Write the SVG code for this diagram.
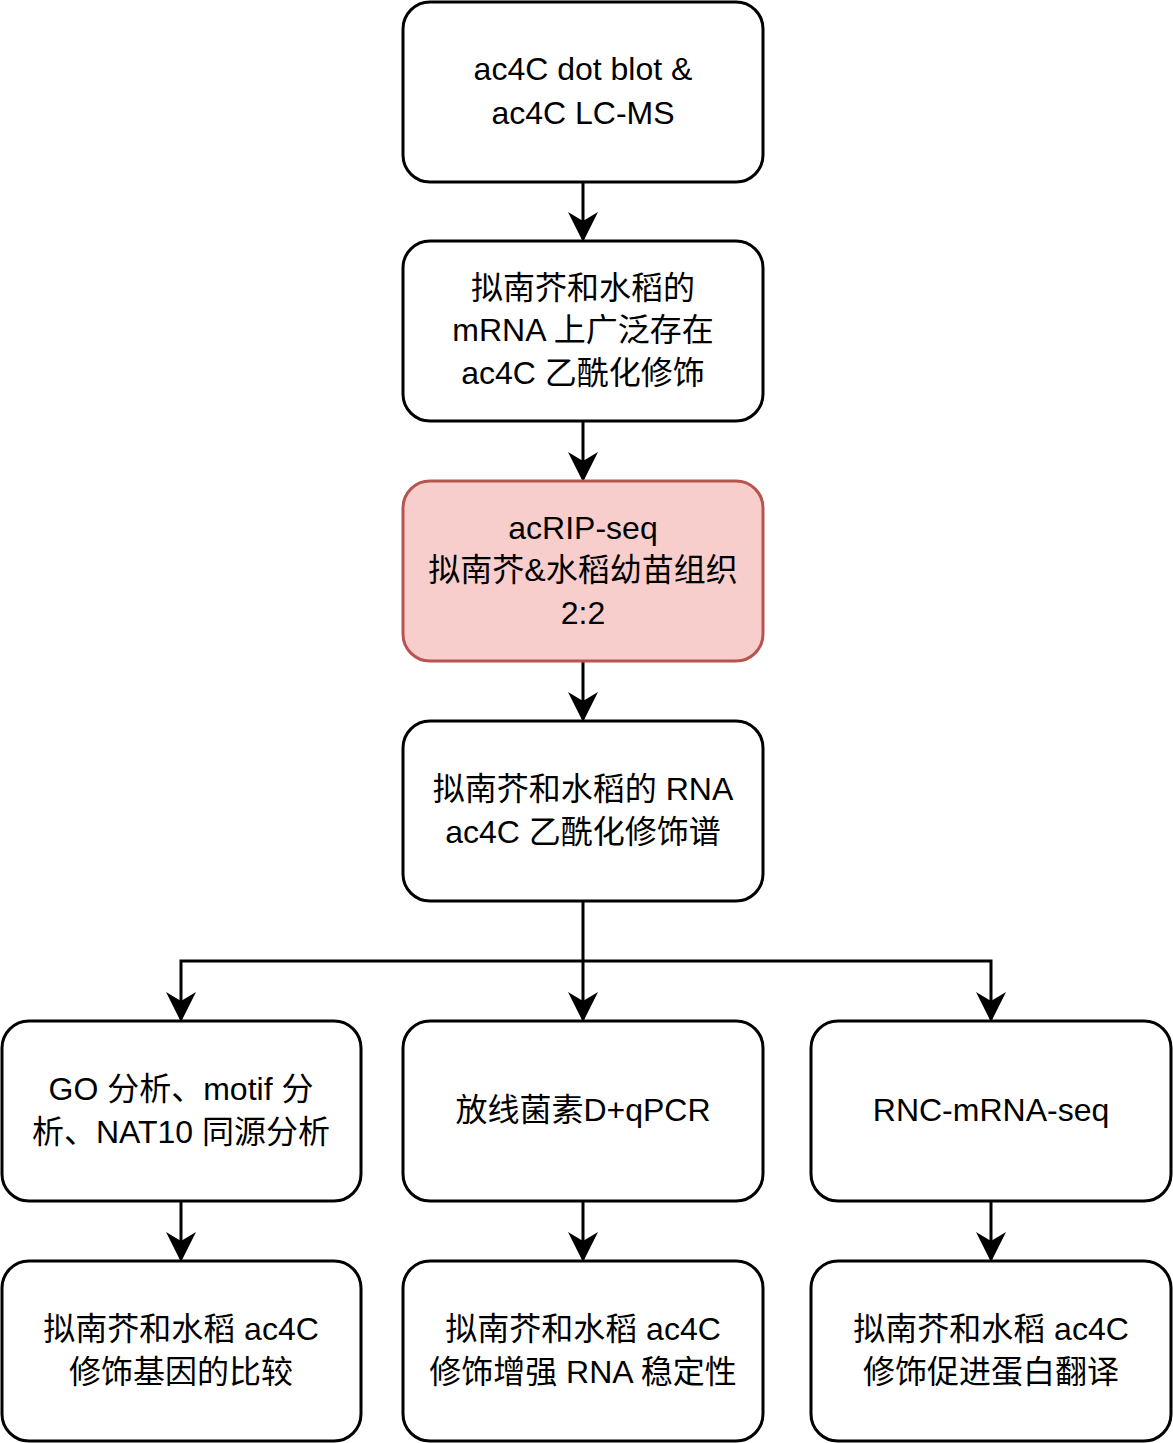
<svg xmlns="http://www.w3.org/2000/svg" width="1173" height="1443" viewBox="0 0 1173 1443">
<defs>
<style>
.b{fill:#fff;stroke:#000;stroke-width:3}
.r{fill:#f8cecc;stroke:#b85450;stroke-width:3}
text{font-family:"Liberation Sans","Noto Sans CJK SC",sans-serif;font-size:32px;text-anchor:middle;dominant-baseline:central;fill:#000}
.c{fill:none;stroke:#000;stroke-width:3}
</style>
<marker id="a" viewBox="0 0 10 10" refX="9" refY="5" markerWidth="9" markerHeight="9" markerUnits="userSpaceOnUse" orient="auto"><path d="M0,0L10,5L0,10L3,5Z" fill="#000"/></marker>
<marker id="m" viewBox="0 0 10 10" refX="9" refY="5" markerWidth="30" markerHeight="30" markerUnits="userSpaceOnUse" orient="auto"><path d="M0,0L10,5L0,10L3,5Z" fill="#000"/></marker>
</defs>
<g id="connectors">
<path class="c" d="M583,182V239" marker-end="url(#m)"/>
<path class="c" d="M583,421V479" marker-end="url(#m)"/>
<path class="c" d="M583,661V719" marker-end="url(#m)"/>
<path class="c" d="M583,901V1019" marker-end="url(#m)"/>
<path class="c" d="M583,961H181V1019" marker-end="url(#m)"/>
<path class="c" d="M583,961H991V1019" marker-end="url(#m)"/>
<path class="c" d="M181,1201V1259" marker-end="url(#m)"/>
<path class="c" d="M583,1201V1259" marker-end="url(#m)"/>
<path class="c" d="M991,1201V1259" marker-end="url(#m)"/>
</g>
<g id="n1"><rect class="b" x="403" y="2" width="360" height="180" rx="27"/><text x="583" y="69">ac4C dot blot &amp;</text><text x="583" y="113">ac4C LC-MS</text></g>
<g id="n2"><rect class="b" x="403" y="241" width="360" height="180" rx="27"/><text x="583" y="288">拟南芥和水稻的</text><text x="583" y="330">mRNA 上广泛存在</text><text x="583" y="373">ac4C 乙酰化修饰</text></g>
<g id="n3"><rect class="r" x="403" y="481" width="360" height="180" rx="27"/><text x="583" y="528">acRIP-seq</text><text x="583" y="570">拟南芥&amp;水稻幼苗组织</text><text x="583" y="613">2:2</text></g>
<g id="n4"><rect class="b" x="403" y="721" width="360" height="180" rx="27"/><text x="583" y="789">拟南芥和水稻的 RNA</text><text x="583" y="832">ac4C 乙酰化修饰谱</text></g>
<g id="n5"><rect class="b" x="2" y="1021" width="359" height="180" rx="27"/><text x="181" y="1089">GO 分析、motif 分</text><text x="181" y="1132">析、NAT10 同源分析</text></g>
<g id="n6"><rect class="b" x="403" y="1021" width="360" height="180" rx="27"/><text x="583" y="1110">放线菌素D+qPCR</text></g>
<g id="n7"><rect class="b" x="811" y="1021" width="360" height="180" rx="27"/><text x="991" y="1110">RNC-mRNA-seq</text></g>
<g id="n8"><rect class="b" x="2" y="1261" width="359" height="180" rx="27"/><text x="181" y="1329">拟南芥和水稻 ac4C</text><text x="181" y="1372">修饰基因的比较</text></g>
<g id="n9"><rect class="b" x="403" y="1261" width="360" height="180" rx="27"/><text x="583" y="1329">拟南芥和水稻 ac4C</text><text x="583" y="1372">修饰增强 RNA 稳定性</text></g>
<g id="n10"><rect class="b" x="811" y="1261" width="360" height="180" rx="27"/><text x="991" y="1329">拟南芥和水稻 ac4C</text><text x="991" y="1372">修饰促进蛋白翻译</text></g>
</svg>
